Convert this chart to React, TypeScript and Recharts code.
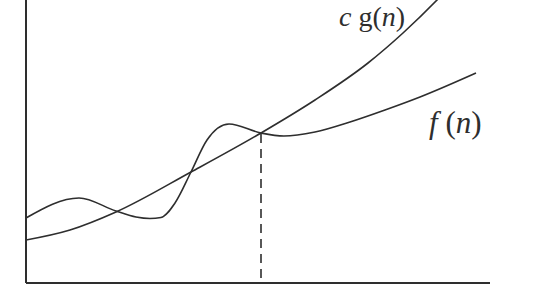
import React from "react";
import { LineChart, Line, XAxis, YAxis, ReferenceLine, ReferenceDot } from "recharts";

// f(n): wavy function (n, value)
const fN = [0, 53, 90, 110, 124, 135, 149, 165, 181, 203, 235, 258, 289, 324, 359, 394, 450];
const fV = [65, 85, 72, 66, 64.5, 65.5, 80, 111, 143, 159, 150, 147, 151, 161, 173, 186, 210];

// c g(n): convex bound
const gN = [0, 44, 90, 165, 235, 289, 342, 377, 412, 440];
const gV = [43, 53, 71, 111, 150, 183, 220, 250, 284, 314];

// n0 where c g(n) meets f(n)
const n0 = 235;
const n0Value = 150;

const fData = fN.map((n, i) => ({ n, v: fV[i] }));
const gData = gN.map((n, i) => ({ n, v: gV[i] }));

const INK = "#2e2e2e";
const FONT = "Liberation Serif, Times New Roman, serif";

const CgLabel = (props: any) => {
  const { viewBox } = props;
  return (
    <text x={viewBox.x} y={viewBox.y} fontFamily={FONT} fontSize={28} fill={INK}>
      <tspan fontStyle="italic">c</tspan>
      <tspan> g(</tspan>
      <tspan fontStyle="italic">n</tspan>
      <tspan>)</tspan>
    </text>
  );
};

const FLabel = (props: any) => {
  const { viewBox } = props;
  return (
    <text x={viewBox.x} y={viewBox.y} fontFamily={FONT} fontSize={31} fill={INK}>
      <tspan fontStyle="italic">f</tspan>
      <tspan> (</tspan>
      <tspan fontStyle="italic">n</tspan>
      <tspan>)</tspan>
    </text>
  );
};

export default function App() {
  return (
    <div style={{ position: "absolute", left: 0, top: 0, width: 549, height: 289, background: "#fff" }}>
      <LineChart width={549} height={289} margin={{ top: 0, right: 59, bottom: 5, left: 25 }}>
        <XAxis
          type="number"
          dataKey="n"
          domain={[0, 464]}
          allowDataOverflow
          tick={false}
          tickLine={false}
          height={1}
          axisLine={{ stroke: INK, strokeWidth: 2 }}
        />
        <YAxis
          type="number"
          dataKey="v"
          domain={[0, 283]}
          allowDataOverflow
          tick={false}
          tickLine={false}
          width={1}
          axisLine={{ stroke: INK, strokeWidth: 2 }}
        />
        <ReferenceLine
          segment={[{ x: n0, y: 5 }, { x: n0, y: n0Value }]}
          stroke={INK}
          strokeWidth={1.6}
          strokeDasharray="9 6"
        />
        <Line
          data={gData}
          dataKey="v"
          type="monotone"
          stroke={INK}
          strokeWidth={1.6}
          dot={false}
          isAnimationActive={false}
        />
        <Line
          data={fData}
          dataKey="v"
          type="monotone"
          stroke={INK}
          strokeWidth={1.6}
          dot={false}
          isAnimationActive={false}
        />
        <ReferenceDot x={313} y={257} r={0} stroke="none" fill="none" ifOverflow="visible" label={<CgLabel />} />
        <ReferenceDot x={403} y={150} r={0} stroke="none" fill="none" ifOverflow="visible" label={<FLabel />} />
      </LineChart>
    </div>
  );
}
